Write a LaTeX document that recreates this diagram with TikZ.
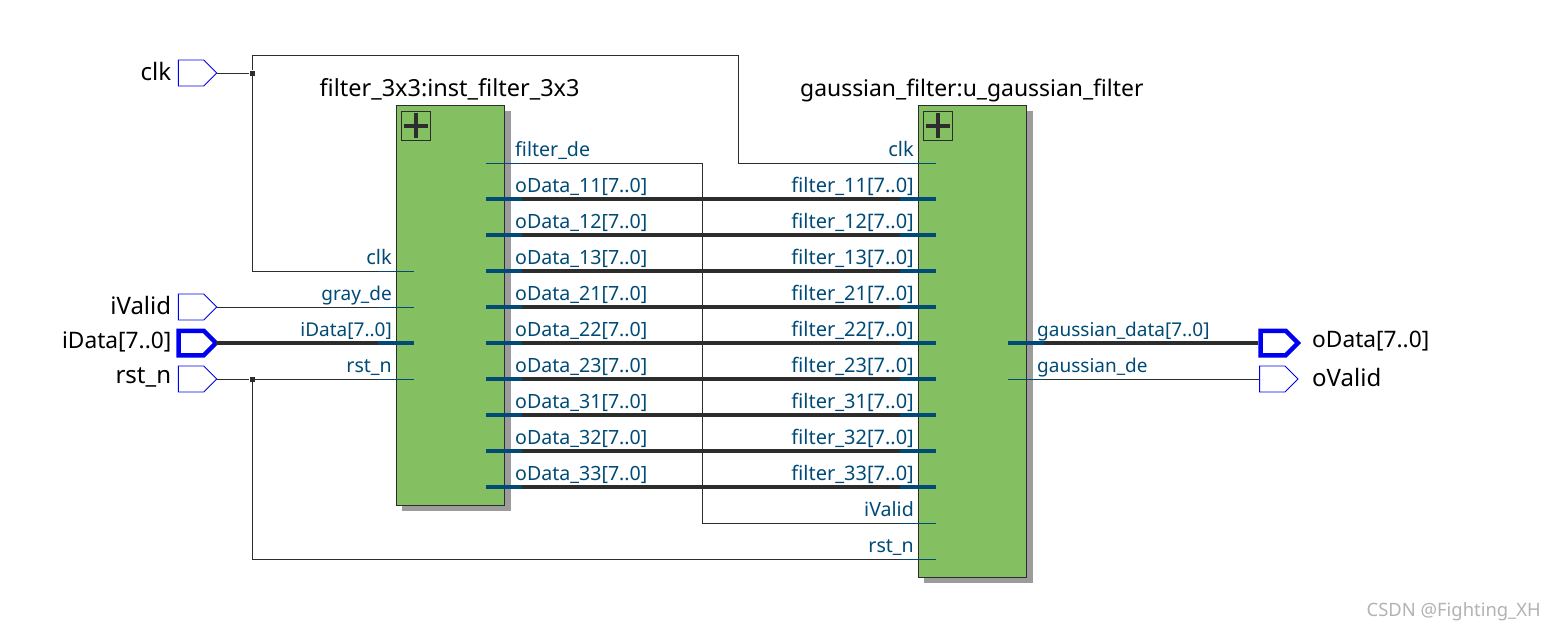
\documentclass[tikz,border=0pt]{standalone}
\usepackage{fontspec}
\setmainfont{Noto Sans}
\usepackage{xcolor}
\usetikzlibrary{arrows.meta, positioning, shapes.symbols, shadows, calc}

\definecolor{wirecol}{HTML}{2D2D2D}
\definecolor{portcol}{HTML}{004A75}
\definecolor{blockcol}{HTML}{84BF62}
\definecolor{shadecol}{HTML}{9C9C9C}
\definecolor{pincol}{HTML}{0000F0}

\begin{document}
\begin{tikzpicture}[
  x=1pt, y=-1pt,
  block/.style={draw=wirecol, line width=1pt, fill=blockcol, minimum width=108.5pt, inner sep=0pt,
    drop shadow={fill=shadecol, opacity=1, shadow xshift=6pt, shadow yshift=-6pt}},
  plusbox/.style={draw=wirecol, line width=1pt, minimum size=29.5pt, inner sep=0pt, anchor=north west},
  plusbar/.style={wirecol, line width=4pt},
  pin/.style={draw=pincol, line width=0.9pt, fill=white, signal, signal to=east, signal from=nowhere,
    signal pointer angle=90, minimum width=38.4pt, minimum height=26pt, inner sep=0pt, outer sep=0pt, anchor=east},
  buspin/.style={pin, line width=4.5pt, minimum width=37.5pt, minimum height=24.5pt},
  pinlabel/.style={font=\fontsize{24}{27}\selectfont, text=black, inner sep=0pt, yshift=1.5pt},
  buslabel/.style={pinlabel, font=\fontsize{22.7}{26}\selectfont},
  title/.style={font=\fontsize{23.5}{27}\selectfont, text=black, inner sep=0pt, anchor=base west},
  portl/.style={font=\fontsize{19.6}{23}\selectfont, text=portcol, inner sep=0pt, anchor=base west},
  portr/.style={font=\fontsize{19.6}{23}\selectfont, text=portcol, inner sep=0pt, anchor=base east},
  narrow/.style={font=\fontsize{19}{22}\selectfont},
  wide/.style={font=\fontsize{20}{23}\selectfont},
  wire/.style={wirecol, line width=1pt},
  bus/.style={wirecol, line width=4pt},
  stub/.style={portcol, line width=1pt},
  busstub/.style={portcol, line width=4pt},
  junc/.style={fill=wirecol, minimum size=5pt, inner sep=0pt}
]
\useasboundingbox (0,0) rectangle (1555,629);

% blocks
\node[block, minimum height=400pt] (filt) at (450.5,305) {};
\node[block, minimum height=472pt] (gauss) at (972.5,341) {};
\node[plusbox] (filtplus) at ([xshift=5pt,yshift=-6pt]filt.north west) {};
\node[plusbox] (gaussplus) at ([xshift=5pt,yshift=-6pt]gauss.north west) {};
\foreach \b in {filtplus, gaussplus} {
  \draw[plusbar] ([yshift=-2.8pt]\b.north) -- ([yshift=2.8pt]\b.south);
  \draw[plusbar] ([xshift=2.8pt]\b.west) -- ([xshift=-2.8pt]\b.east);
}
\node[title] (filttitle) at (319.5,96) {filter\_3x3:inst\_filter\_3x3};
\node[title, font=\fontsize{22.9}{27}\selectfont] (gausstitle) at (800,96) {gaussian\_filter:u\_gaussian\_filter};

% top level pins
\node[pin] (clk) at (216.7,73) {};
\node[pin] (ivalid) at (216.7,307) {};
\node[buspin] (idata) at (216,343) {};
\node[pin] (rstn) at (216.7,379) {};
\node[buspin] (odata) at (1298,343) {};
\node[pin] (ovalid) at (1298,379) {};
\node[pinlabel, left=7pt of clk] (clklab) {clk};
\node[pinlabel, left=7pt of ivalid] (ivalidlab) {iValid};
\node[buslabel, left=7pt of idata] (idatalab) {iData[7..0]};
\node[pinlabel, left=7pt of rstn] (rstnlab) {rst\_n};
\node[buslabel, right=14pt of odata] (odatalab) {oData[7..0]};
\node[pinlabel, right=14pt of ovalid] (ovalidlab) {oValid};

\node[junc] (clkj) at (252,73) {};
\node[junc] (rstj) at (252,379) {};

% pins of the blocks
\coordinate (fclk) at (378,271);
\coordinate (fgray) at (378,307);
\coordinate (fdata) at (378,343);
\coordinate (frst) at (378,379);
\coordinate (fde) at (522,163);
\coordinate (gclk) at (900,163);
\coordinate (gvalid) at (900,523);
\coordinate (grst) at (900,559);
\coordinate (gdata) at (1044,343);
\coordinate (gde) at (1044,379);

% wires
\draw[wire] (clk.east) -- (clkj);
\draw[wire] (clkj) |- (fclk);
\draw[wire] (clkj) |- (738.3,55) |- (gclk);
\draw[wire] (ivalid.east) -- (fgray);
\draw[bus] (idata.east) -- (fdata);
\draw[wire] (rstn.east) -- (rstj);
\draw[wire] (rstj) -- (frst);
\draw[wire] (rstj) |- (grst);
\draw[wire] (fde) -| (702.5,523) -- (gvalid);
\draw[bus, shorten >=2.25pt] (gdata) -- (odata.west);
\draw[wire] (gde) -- (ovalid.west);

% stubs
\draw[stub] (fclk) -- ++(36,0);
\draw[stub] (fgray) -- ++(36,0);
\draw[busstub] (fdata) -- ++(36,0);
\draw[stub] (frst) -- ++(36,0);
\draw[stub] (fde) -- ++(-36,0);
\draw[stub] (gclk) -- ++(36,0);
\draw[stub] (gvalid) -- ++(36,0);
\draw[stub] (grst) -- ++(36,0);
\draw[busstub] (gdata) -- ++(-36,0);
\draw[stub] (gde) -- ++(-36,0);

% the nine buses
\foreach \n [count=\i from 0] in {11,12,13,21,22,23,31,32,33} {
  \coordinate (o\n) at (522,199+36*\i);
  \coordinate (f\n) at (900,199+36*\i);
  \draw[bus] (o\n) -- (f\n);
  \draw[busstub] (o\n) -- ++(-36,0);
  \draw[busstub] (f\n) -- ++(36,0);
  \node[portl] (olab\n) at (515,192+36*\i) {oData\_\n[7..0]};
  \node[portr, wide] (flab\n) at (914,192+36*\i) {filter\_\n[7..0]};
}

% port names
\node[portr, wide] (fclklab) at (392,264) {clk};
\node[portr, narrow] (fgraylab) at (392,300) {gray\_de};
\node[portr, narrow] (fdatalab) at (392,336) {iData[7..0]};
\node[portr] (frstlab) at (392,372) {rst\_n};
\node[portl] (fdelab) at (515,156) {filter\_de};
\node[portr, wide] (gclklab) at (914,156) {clk};
\node[portr] (gvalidlab) at (914,516) {iValid};
\node[portr] (grstlab) at (914,552) {rst\_n};
\node[portl, narrow] (gdatalab) at (1037,336) {gaussian\_data[7..0]};
\node[portl, narrow] (gdelab) at (1037,372) {gaussian\_de};

\node[font=\fontsize{18.4}{21}\selectfont, text=black!30, inner sep=0pt, anchor=base east] (mark) at (1541,616) {CSDN @Fighting\_XH};
\end{tikzpicture}
\end{document}
